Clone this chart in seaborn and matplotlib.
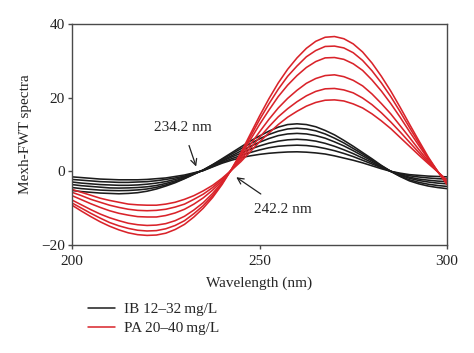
import numpy as np
import pandas as pd
import matplotlib
matplotlib.use("Agg")
import matplotlib.pyplot as plt
import seaborn as sns
from matplotlib.lines import Line2D

# ---------------- data ----------------
wavelength = [200 + 2.5 * i for i in range(41)]

ib_label = "IB 12\u201332\u2009mg/L"
pa_label = "PA 20\u201340\u2009mg/L"

ib_1 = [-1.5, -1.7, -1.9, -2.1, -2.2, -2.3, -2.3, -2.3, -2.2, -2.0, -1.8, -1.4, -1.0, -0.40, 0.19, 1.2, 2.2, 3.0, 3.7, 4.2,
        4.6, 4.9, 5.1, 5.25, 5.3, 5.2, 5.0, 4.7, 4.2, 3.6, 3.0, 2.3, 1.5, 0.7, 0.0, -0.5, -0.9, -1.1, -1.3, -1.4, -1.5]
ib_2 = [-2.2, -2.4, -2.6, -2.8, -2.9, -3.0, -3.0, -2.9, -2.8, -2.55, -2.2, -1.8, -1.3, -0.53, 0.25, 1.3, 2.4, 3.4, 4.3, 5.1,
        5.8, 6.4, 6.8, 7.0, 7.1, 7.0, 6.7, 6.2, 5.6, 4.85, 4.0, 3.0, 2.0, 1.0, 0.0, -0.7, -1.2, -1.55, -1.8, -2.0, -2.1]
ib_3 = [-2.9, -3.2, -3.4, -3.6, -3.7, -3.8, -3.8, -3.7, -3.5, -3.2, -2.8, -2.2, -1.5, -0.62, 0.29, 1.5, 2.7, 3.85, 4.9, 6.0,
        6.9, 7.65, 8.2, 8.55, 8.7, 8.55, 8.2, 7.6, 6.8, 5.85, 4.8, 3.6, 2.4, 1.15, 0.0, -0.9, -1.6, -2.1, -2.4, -2.65, -2.8]
ib_4 = [-3.6, -3.9, -4.1, -4.3, -4.5, -4.55, -4.5, -4.4, -4.2, -3.85, -3.3, -2.6, -1.7, -0.68, 0.32, 1.6, 2.9, 4.2, 5.5, 6.75,
        7.9, 8.9, 9.7, 10.15, 10.3, 10.15, 9.7, 9.0, 8.0, 6.9, 5.6, 4.2, 2.8, 1.35, 0.0, -1.05, -1.9, -2.5, -2.9, -3.2, -3.4]
ib_5 = [-4.4, -4.7, -4.9, -5.1, -5.2, -5.25, -5.2, -5.05, -4.8, -4.35, -3.7, -2.9, -1.9, -0.77, 0.36, 1.8, 3.2, 4.65, 6.1, 7.5,
        8.8, 10.0, 10.9, 11.5, 11.7, 11.5, 11.0, 10.15, 9.0, 7.7, 6.2, 4.7, 3.1, 1.5, 0.0, -1.3, -2.3, -3.0, -3.5, -3.85, -4.1]
ib_6 = [-5.2, -5.5, -5.7, -5.9, -6.0, -6.1, -6.0, -5.8, -5.4, -4.8, -4.0, -3.1, -2.0, -0.81, 0.38, 1.8, 3.4, 5.0, 6.6, 8.2,
        9.6, 10.9, 12.0, 12.7, 12.9, 12.7, 12.1, 11.1, 9.9, 8.4, 6.8, 5.1, 3.4, 1.6, 0.0, -1.4, -2.6, -3.4, -4.0, -4.4, -4.7]

pa_1 = [-4.9, -5.7, -6.5, -7.3, -7.9, -8.4, -8.9, -9.1, -9.2, -9.2, -8.9, -8.4, -7.6, -6.6, -5.3, -3.8, -1.9, 0.3, 2.6, 5.3,
        8.0, 10.4, 12.7, 14.7, 16.3, 17.7, 18.7, 19.3, 19.4, 19.1, 18.3, 17.2, 15.6, 13.7, 11.6, 9.2, 6.8, 4.4, 2.1, -0.1, -2.4]
pa_2 = [-5.7, -6.6, -7.6, -8.4, -9.2, -9.8, -10.3, -10.6, -10.7, -10.6, -10.3, -9.7, -8.9, -7.6, -6.2, -4.4, -2.2, 0.3, 3.1, 6.2,
        9.2, 12.1, 14.8, 17.0, 18.9, 20.5, 21.7, 22.4, 22.5, 22.1, 21.3, 19.9, 18.1, 15.9, 13.4, 10.7, 7.9, 5.1, 2.4, -0.1, -2.6]
pa_3 = [-6.6, -7.7, -8.8, -9.8, -10.7, -11.4, -11.9, -12.3, -12.4, -12.4, -12.0, -11.3, -10.3, -8.9, -7.2, -5.1, -2.6, 0.4, 3.6, 7.2,
        10.7, 14.1, 17.2, 19.8, 22.0, 23.9, 25.2, 26.0, 26.2, 25.7, 24.7, 23.2, 21.0, 18.4, 15.6, 12.4, 9.2, 5.9, 2.8, -0.1, -2.8]
pa_4 = [-7.8, -9.1, -10.4, -11.6, -12.6, -13.4, -14.1, -14.5, -14.7, -14.6, -14.2, -13.4, -12.2, -10.5, -8.5, -6.0, -3.0, 0.4, 4.2, 8.5,
        12.7, 16.6, 20.3, 23.4, 26.0, 28.2, 29.8, 30.8, 30.9, 30.4, 29.2, 27.4, 24.8, 21.8, 18.4, 14.7, 10.8, 7.0, 3.3, 0.0, -3.1]
pa_5 = [-8.6, -10.0, -11.4, -12.7, -13.9, -14.8, -15.5, -16.0, -16.2, -16.1, -15.6, -14.7, -13.4, -11.5, -9.3, -6.6, -3.3, 0.5, 4.7, 9.3,
        14.0, 18.3, 22.3, 25.8, 28.6, 31.1, 32.8, 33.9, 34.0, 33.5, 32.2, 30.1, 27.3, 24.0, 20.3, 16.2, 11.9, 7.7, 3.6, 0.0, -3.4]
pa_6 = [-9.2, -10.8, -12.3, -13.7, -14.9, -15.9, -16.7, -17.2, -17.4, -17.3, -16.8, -15.8, -14.4, -12.4, -10.0, -7.1, -3.6, 0.5, 5.0, 10.0,
        15.0, 19.7, 24.0, 27.7, 30.8, 33.4, 35.3, 36.4, 36.6, 36.0, 34.6, 32.4, 29.4, 25.8, 21.8, 17.4, 12.8, 8.3, 3.9, 0.0, -3.6]

ib_curves = [ib_1, ib_2, ib_3, ib_4, ib_5, ib_6]
pa_curves = [pa_1, pa_2, pa_3, pa_4, pa_5, pa_6]

x_ticks = [200, 250, 300]
y_ticks = [-20, 0, 20, 40]
y_tick_labels = ["\u221220", "0", "20", "40"]

for c in ib_curves + pa_curves:
    assert len(c) == len(wavelength), len(c)

# ---------------- build long table ----------------
rows = []
for i, c in enumerate(ib_curves):
    for w, v in zip(wavelength, c):
        rows.append((w, v, ib_label, f"ib{i}"))
for i, c in enumerate(pa_curves):
    for w, v in zip(wavelength, c):
        rows.append((w, v, pa_label, f"pa{i}"))
df = pd.DataFrame(rows, columns=["wavelength", "value", "group", "curve"])

# ---------------- style ----------------
sns.set_theme(style="ticks")
plt.rcParams["font.family"] = ["Liberation Serif", "DejaVu Serif"]
plt.rcParams["axes.edgecolor"] = "#4a4a4a"
plt.rcParams["xtick.color"] = "#4a4a4a"
plt.rcParams["ytick.color"] = "#4a4a4a"
plt.rcParams["xtick.labelcolor"] = "#222222"
plt.rcParams["ytick.labelcolor"] = "#222222"

BLACK = "#1c1c1c"
RED = "#d9232a"

fig = plt.figure(figsize=(4.74, 3.53), dpi=100)
ax = fig.add_axes([0.152, 0.306, 0.791, 0.626])

sns.lineplot(data=df[df.group == ib_label], x="wavelength", y="value",
             units="curve", estimator=None, color=BLACK, lw=1.15, ax=ax,
             legend=False)
sns.lineplot(data=df[df.group == pa_label], x="wavelength", y="value",
             units="curve", estimator=None, color=RED, lw=1.15, ax=ax,
             legend=False)

ax.set_xlim(200, 300)
ax.set_ylim(-20, 40)
ax.set_xticks(x_ticks)
ax.set_yticks(y_ticks)
ax.set_yticklabels(y_tick_labels)
for s in ax.spines.values():
    s.set_linewidth(1.0)
    s.set_visible(True)
ax.tick_params(direction="out", length=3, width=1.0, labelsize=11)
ax.tick_params(axis="x", pad=4)
ax.tick_params(axis="y", pad=2)

ax.set_xlabel("Wavelength (nm)", fontsize=11, labelpad=6)
ax.set_ylabel("Mexh-FWT spectra", fontsize=11, labelpad=7)

ax.annotate("234.2 nm", xy=(233.1, 1.3), xytext=(229.6, 11.8),
            fontsize=11, ha="center", va="center",
            arrowprops=dict(arrowstyle="->", color="#222222", lw=0.9,
                            shrinkA=6, shrinkB=0))
ax.annotate("242.2 nm", xy=(243.8, -1.6), xytext=(256.3, -10.3),
            fontsize=11, ha="center", va="center",
            arrowprops=dict(arrowstyle="->", color="#222222", lw=0.9,
                            shrinkA=7, shrinkB=0))

handles = [Line2D([], [], color=BLACK, lw=1.1),
           Line2D([], [], color=RED, lw=1.1)]
fig.legend(handles, [ib_label, pa_label], loc="upper left",
           bbox_to_anchor=(0.185, 0.143), frameon=False, fontsize=11,
           handlelength=1.8, handletextpad=0.55, labelspacing=0.35,
           borderaxespad=0, borderpad=0)

fig.savefig("out.png", dpi=100)
